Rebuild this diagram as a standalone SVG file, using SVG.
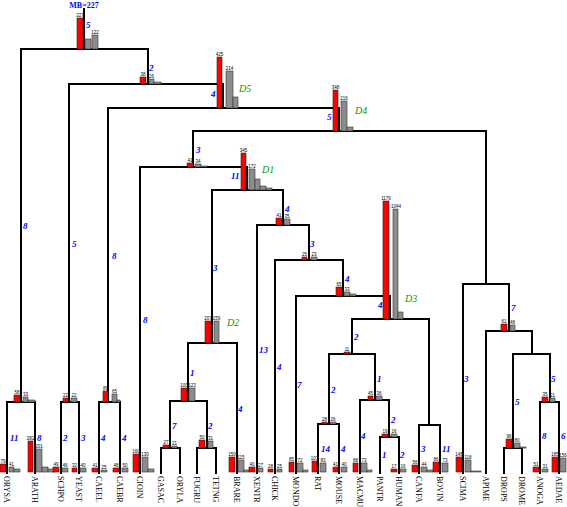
<svg xmlns="http://www.w3.org/2000/svg" width="567" height="507" viewBox="0 0 567 507">
<style>
.c{fill:none;stroke:#000;stroke-width:2;stroke-linecap:square}
.r{fill:#f00;stroke:#222;stroke-width:0.6}
.g{fill:#8c8c8c;stroke:#333;stroke-width:0.6}
.n{font-family:"Liberation Sans",sans-serif;font-size:4.5px;fill:#000;text-anchor:middle}
.b{font-family:"Liberation Serif",serif;font-size:9px;font-style:italic;font-weight:bold;fill:#00f}
.d{font-family:"Liberation Serif",serif;font-size:10px;font-style:italic;fill:#090}
.lf{font-family:"Liberation Serif",serif;font-size:8px;fill:#000}
</style>
<rect width="567" height="507" fill="#fff"/>
<g id="connectors" class="c">
<path d="M84,9V49M21,402V49H148V84M69,402V84H223V108M108,402V108H339V131M193,131V167M486,131H193"/>
<path d="M7,473V402H35V473"/>
<path d="M61,473V402H79V473"/>
<path d="M99,473V402H120V473"/>
<path d="M140,473V167H247V190M212,343V190H283V225"/>
<path d="M188,401V343H237V473M170,448V401H207V448"/>
<path d="M161,473V448H180V473M197,473V448H216V473"/>
<path d="M257,473V225H309V260M275,473V260H343V296M296,473V296H390V319"/>
<path d="M352,354V319H429V425M329,424V354H375V400M360,473V400H389V437"/>
<path d="M318,473V424H339V473M380,473V437H399V473M419,473V425H440V473"/>
<path d="M486,131V284M463,473V284H509V331M486,473V331H532V354M513,448V354H550V402"/>
<path d="M504,473V448H522V473M540,473V402H559V473"/>
</g>
<g id="root">
<text x="84" y="7.5" font-family="Liberation Serif,serif" font-size="8" font-weight="bold" fill="#00f" text-anchor="middle">MB=227</text>
<rect class="r" x="77" y="18" width="6" height="31"/><rect class="g" x="85" y="39" width="6" height="10"/><rect class="g" x="92" y="35" width="6" height="14"/>
<text class="n" x="80" y="17">227</text><text class="n" x="95" y="34">122</text>
<text class="b" x="86" y="28">5</text>
</g>
<g id="n2">
<rect class="r" x="140" y="77" width="6" height="7"/><rect class="g" x="149" y="79" width="5" height="5"/><rect class="g" x="154" y="82" width="7" height="2"/>
<text class="n" x="143" y="76">38</text><text class="n" x="151.5" y="78">26</text>
<text class="b" x="149" y="71">2</text>
</g>
<g id="D5">
<rect class="r" x="217" y="57" width="5" height="51"/><rect class="g" x="226" y="71" width="7" height="37"/><rect class="g" x="233" y="97" width="5" height="11"/>
<text class="n" x="219.5" y="56">425</text><text class="n" x="229.5" y="70">214</text>
<text class="b" x="211" y="97">4</text><text class="d" x="239" y="92">D5</text>
</g>
<g id="D4">
<rect class="r" x="333" y="90" width="5" height="41"/><rect class="g" x="341" y="101" width="6" height="30"/><rect class="g" x="347" y="127" width="6" height="4"/>
<text class="n" x="335.5" y="89">348</text><text class="n" x="344" y="100">216</text>
<text class="b" x="327" y="120">5</text><text class="d" x="355" y="114">D4</text>
</g>
<g id="n3">
<rect class="r" x="187" y="163" width="6" height="4"/><rect class="g" x="195" y="164" width="6" height="3"/><rect class="g" x="201" y="166" width="6" height="1"/>
<text class="n" x="190" y="162">41</text><text class="n" x="198" y="163">34</text>
<text class="b" x="196" y="153">3</text>
</g>
<g id="D1">
<rect class="r" x="241" y="153" width="5" height="37"/><rect class="g" x="249" y="169" width="6" height="21"/><rect class="g" x="255" y="179" width="5" height="11"/><rect class="g" x="260" y="186" width="6" height="4"/><rect class="g" x="266" y="188" width="6" height="2"/>
<text class="n" x="243.5" y="152">345</text><text class="n" x="252" y="168">172</text>
<text class="b" x="231" y="179">11</text><text class="d" x="262" y="173">D1</text>
<text class="b" x="213" y="271">3</text>
</g>
<g id="n4">
<rect class="r" x="276" y="218" width="6" height="7"/><rect class="g" x="284" y="219" width="6" height="6"/>
<text class="n" x="279" y="217">41</text><text class="n" x="287" y="218">35</text>
<text class="b" x="285" y="212">4</text>
</g>
<g id="n5">
<rect class="r" x="302" y="257" width="5" height="3"/><rect class="g" x="311" y="257" width="6" height="3"/>
<text class="n" x="304.5" y="256">25</text><text class="n" x="314" y="256">23</text>
<text class="b" x="310" y="247">3</text>
</g>
<g id="n6">
<rect class="r" x="336" y="287" width="6" height="9"/><rect class="g" x="344" y="292" width="6" height="4"/><rect class="g" x="350" y="294" width="6" height="2"/>
<text class="n" x="339" y="286">65</text><text class="n" x="347" y="291">33</text>
<text class="b" x="345" y="282">4</text>
</g>
<g id="D3">
<rect class="r" x="383" y="201" width="6" height="118"/><rect class="g" x="393" y="209" width="5" height="110"/><rect class="g" x="398" y="312" width="5" height="7"/>
<text class="n" x="386" y="200">1179</text><text class="n" x="396" y="208">1044</text>
<text class="b" x="378" y="308">4</text><text class="d" x="405" y="302">D3</text>
</g>
<g id="n7">
<rect class="r" x="344" y="352" width="6" height="2"/>
<text class="n" x="347" y="351">11</text>
<text class="b" x="354" y="340">2</text>
</g>
<g id="n8">
<rect class="r" x="368" y="396" width="5" height="4"/><rect class="g" x="376" y="396" width="6" height="4"/>
<text class="n" x="370.5" y="395">45</text><text class="n" x="379" y="395">36</text>
<text class="b" x="377" y="382">1</text>
</g>
<g id="n9">
<rect class="r" x="382" y="434" width="6" height="3"/><rect class="g" x="391" y="434" width="6" height="3"/>
<text class="n" x="385" y="433">19</text><text class="n" x="394" y="433">16</text>
<text class="b" x="391" y="423">2</text>
</g>
<g id="n10">
<text class="b" x="331" y="393">2</text>
</g>
<g id="n11">
<rect class="r" x="322" y="422" width="5" height="2"/><rect class="g" x="330" y="422" width="6" height="2"/>
<text class="n" x="324.5" y="421">28</text><text class="n" x="333" y="421">26</text>
</g>
<g id="n12">
<text class="b" x="464" y="382">3</text>
</g>
<g id="n13">
<rect class="r" x="501" y="324" width="6" height="7"/><rect class="g" x="510" y="325" width="5" height="6"/>
<text class="n" x="504" y="323">61</text><text class="n" x="512.5" y="324">48</text>
<text class="b" x="511" y="311">7</text>
</g>
<g id="n14">
<rect class="r" x="506" y="439" width="6" height="9"/><rect class="g" x="514" y="443" width="6" height="5"/><rect class="g" x="520" y="447" width="6" height="1"/>
<text class="n" x="509" y="438">96</text><text class="n" x="517" y="442">80</text>
<text class="b" x="515" y="405">5</text>
</g>
<g id="n15">
<rect class="r" x="542" y="397" width="6" height="5"/><rect class="g" x="550" y="398" width="5" height="4"/>
<text class="n" x="545" y="396">35</text><text class="n" x="552.5" y="397">21</text>
<text class="b" x="551" y="382">5</text>
</g>
<g id="n16">
<rect class="r" x="14" y="395" width="6" height="7"/><rect class="g" x="23" y="397" width="5" height="5"/><rect class="g" x="28" y="400" width="7" height="2"/>
<text class="n" x="17" y="394">58</text><text class="n" x="25.5" y="396">33</text>
<text class="b" x="23" y="229">8</text>
</g>
<g id="n17">
<rect class="r" x="63" y="398" width="5" height="4"/><rect class="g" x="71" y="398" width="6" height="4"/>
<text class="n" x="65.5" y="397">22</text><text class="n" x="74" y="397">22</text>
<text class="b" x="72" y="247">5</text>
</g>
<g id="n18">
<rect class="r" x="103" y="391" width="5" height="11"/><rect class="g" x="112" y="394" width="5" height="8"/><rect class="g" x="117" y="400" width="3" height="2"/>
<text class="n" x="105.5" y="390">89</text><text class="n" x="114.5" y="393">65</text>
<text class="b" x="112" y="259">8</text>
</g>
<g id="n19">
<text class="b" x="143" y="323">8</text>
</g>
<g id="D2">
<rect class="r" x="205" y="321" width="6" height="22"/><rect class="g" x="214" y="321" width="5" height="22"/>
<text class="n" x="208" y="320">207</text><text class="n" x="216.5" y="320">159</text>
<text class="d" x="227" y="326">D2</text>
</g>
<g id="n20">
<rect class="r" x="181" y="388" width="6" height="13"/><rect class="g" x="189" y="388" width="6" height="13"/>
<text class="n" x="184" y="387">100</text><text class="n" x="192" y="387">123</text>
<text class="b" x="190" y="376">1</text>
</g>
<g id="n21">
<rect class="r" x="163" y="445" width="6" height="3"/><rect class="g" x="172" y="446" width="5" height="2"/>
<text class="n" x="166" y="444">27</text><text class="n" x="174.5" y="445">21</text>
<text class="b" x="172" y="429">7</text>
</g>
<g id="n22">
<rect class="r" x="199" y="440" width="6" height="8"/><rect class="g" x="208" y="441" width="5" height="7"/>
<text class="n" x="202" y="439">50</text><text class="n" x="210.5" y="440">31</text>
<text class="b" x="208" y="429">2</text>
</g>
<g id="leaves" class="lf">
<g id="ORYSA"><rect class="r" x="0" y="464" width="6" height="8"/><rect class="g" x="9" y="467" width="5" height="5"/><rect class="g" x="14" y="469" width="6" height="3"/><text class="n" x="3" y="463">79</text><text class="n" x="11.5" y="466">41</text><text class="b" x="10" y="441">11</text><text transform="translate(7,476) rotate(90)" dy="0.35em">ORYSA</text></g>
<g id="ARATH"><rect class="r" x="28" y="441" width="5" height="31"/><rect class="g" x="36" y="449" width="6" height="23"/><rect class="g" x="42" y="467" width="6" height="5"/><rect class="g" x="48" y="469" width="7" height="3"/><text class="n" x="30.5" y="440">281</text><text class="n" x="39" y="448">201</text><text class="b" x="37" y="441">8</text><text transform="translate(35,476) rotate(90)" dy="0.35em">ARATH</text></g>
<g id="SCHPO"><rect class="r" x="53" y="467" width="6" height="5"/><rect class="g" x="62" y="468" width="6" height="4"/><text class="n" x="56" y="466">49</text><text class="n" x="65" y="467">46</text><text class="b" x="63" y="441">2</text><text transform="translate(61,476) rotate(90)" dy="0.35em">SCHPO</text></g>
<g id="YEAST"><rect class="r" x="72" y="468" width="5" height="4"/><rect class="g" x="80" y="468" width="6" height="4"/><text class="n" x="74.5" y="467">32</text><text class="n" x="83" y="467">40</text><text class="b" x="81" y="441">3</text><text transform="translate(79,476) rotate(90)" dy="0.35em">YEAST</text></g>
<g id="CAEEL"><rect class="r" x="92" y="468" width="6" height="4"/><rect class="g" x="101" y="470" width="6" height="2"/><text class="n" x="95" y="467">41</text><text class="n" x="104" y="469">25</text><text class="b" x="101" y="441">4</text><text transform="translate(99,476) rotate(90)" dy="0.35em">CAEEL</text></g>
<g id="CAEBR"><rect class="r" x="113" y="468" width="6" height="4"/><rect class="g" x="122" y="468" width="6" height="4"/><text class="n" x="116" y="467">48</text><text class="n" x="125" y="467">50</text><text class="b" x="122" y="441">4</text><text transform="translate(120,476) rotate(90)" dy="0.35em">CAEBR</text></g>
<g id="CIOIN"><rect class="r" x="133" y="454" width="6" height="18"/><rect class="g" x="142" y="457" width="6" height="15"/><rect class="g" x="148" y="469" width="6" height="3"/><text class="n" x="136" y="453">160</text><text class="n" x="145" y="456">130</text><text transform="translate(140,476) rotate(90)" dy="0.35em">CIOIN</text></g>
<g id="GASAC"><text transform="translate(161,476) rotate(90)" dy="0.35em">GASAC</text></g>
<g id="ORYLA"><text transform="translate(180,476) rotate(90)" dy="0.35em">ORYLA</text></g>
<g id="FUGRU"><text transform="translate(197,476) rotate(90)" dy="0.35em">FUGRU</text></g>
<g id="TETNG"><text transform="translate(216,476) rotate(90)" dy="0.35em">TETNG</text></g>
<g id="BRARE"><rect class="r" x="229" y="457" width="6" height="15"/><rect class="g" x="238" y="460" width="6" height="12"/><rect class="g" x="244" y="470" width="5" height="2"/><text class="n" x="232" y="456">150</text><text class="n" x="241" y="459">115</text><text class="b" x="238" y="412">4</text><text transform="translate(237,476) rotate(90)" dy="0.35em">BRARE</text></g>
<g id="XENTR"><rect class="r" x="249" y="467" width="6" height="5"/><rect class="g" x="258" y="468" width="5" height="4"/><text class="n" x="252" y="466">40</text><text class="n" x="260.5" y="467">27</text><text class="b" x="259" y="353">13</text><text transform="translate(257,476) rotate(90)" dy="0.35em">XENTR</text></g>
<g id="CHICK"><rect class="r" x="268" y="469" width="5" height="3"/><rect class="g" x="277" y="469" width="5" height="3"/><text class="n" x="270.5" y="468">28</text><text class="n" x="279.5" y="468">25</text><text class="b" x="277" y="370">4</text><text transform="translate(275,476) rotate(90)" dy="0.35em">CHICK</text></g>
<g id="MONDO"><rect class="r" x="289" y="462" width="5" height="10"/><rect class="g" x="297" y="463" width="6" height="9"/><rect class="g" x="303" y="470" width="5" height="2"/><text class="n" x="291.5" y="461">85</text><text class="n" x="300" y="462">72</text><text class="b" x="297" y="388">7</text><text transform="translate(296,476) rotate(90)" dy="0.35em">MONDO</text></g>
<g id="RAT"><rect class="r" x="312" y="461" width="5" height="11"/><rect class="g" x="320" y="463" width="6" height="9"/><text class="n" x="314.5" y="460">107</text><text class="n" x="323" y="462">83</text><text class="b" x="321" y="452">14</text><text transform="translate(318,476) rotate(90)" dy="0.35em">RAT</text></g>
<g id="MOUSE"><rect class="r" x="333" y="467" width="5" height="5"/><rect class="g" x="341" y="467" width="6" height="5"/><text class="n" x="335.5" y="466">41</text><text class="n" x="344" y="466">40</text><text class="b" x="341" y="452">4</text><text transform="translate(339,476) rotate(90)" dy="0.35em">MOUSE</text></g>
<g id="MACMU"><rect class="r" x="353" y="463" width="5" height="9"/><rect class="g" x="361" y="463" width="6" height="9"/><rect class="g" x="367" y="470" width="5" height="2"/><text class="n" x="355.5" y="462">88</text><text class="n" x="364" y="462">73</text><text class="b" x="361" y="439">4</text><text transform="translate(360,476) rotate(90)" dy="0.35em">MACMU</text></g>
<g id="PANTR"><text class="b" x="382" y="458">1</text><text transform="translate(380,476) rotate(90)" dy="0.35em">PANTR</text></g>
<g id="HUMAN"><rect class="r" x="391" y="469" width="6" height="3"/><rect class="g" x="400" y="469" width="6" height="3"/><text class="n" x="394" y="468">17</text><text class="n" x="403" y="468">16</text><text class="b" x="400" y="458">2</text><text transform="translate(399,476) rotate(90)" dy="0.35em">HUMAN</text></g>
<g id="CANFA"><rect class="r" x="412" y="465" width="6" height="7"/><rect class="g" x="421" y="467" width="6" height="5"/><rect class="g" x="427" y="470" width="6" height="2"/><text class="n" x="415" y="464">56</text><text class="n" x="424" y="466">44</text><text class="b" x="421" y="452">3</text><text transform="translate(419,476) rotate(90)" dy="0.35em">CANFA</text></g>
<g id="BOVIN"><rect class="r" x="433" y="462" width="6" height="10"/><rect class="g" x="442" y="463" width="6" height="9"/><text class="n" x="436" y="461">86</text><text class="n" x="445" y="462">73</text><text class="b" x="442" y="452">11</text><text transform="translate(440,476) rotate(90)" dy="0.35em">BOVIN</text></g>
<g id="SCIMA"><rect class="r" x="456" y="457" width="6" height="15"/><rect class="g" x="465" y="460" width="6" height="12"/><rect class="g" x="471" y="471" width="10" height="1"/><text class="n" x="459" y="456">148</text><text class="n" x="468" y="459">118</text><text transform="translate(463,476) rotate(90)" dy="0.35em">SCIMA</text></g>
<g id="APIME"><text transform="translate(486,476) rotate(90)" dy="0.35em">APIME</text></g>
<g id="DROPS"><text transform="translate(504,476) rotate(90)" dy="0.35em">DROPS</text></g>
<g id="DROME"><text transform="translate(522,476) rotate(90)" dy="0.35em">DROME</text></g>
<g id="ANOGA"><rect class="r" x="533" y="467" width="6" height="5"/><rect class="g" x="542" y="469" width="6" height="3"/><text class="n" x="536" y="466">51</text><text class="n" x="545" y="468">31</text><text class="b" x="542" y="439">8</text><text transform="translate(540,476) rotate(90)" dy="0.35em">ANOGA</text></g>
<g id="AEDAE"><rect class="r" x="552" y="457" width="6" height="15"/><rect class="g" x="560" y="458" width="6" height="14"/><text class="n" x="555" y="456">185</text><text class="n" x="563" y="457">156</text><text class="b" x="561" y="439">6</text><text transform="translate(559,476) rotate(90)" dy="0.35em">AEDAE</text></g>
</g>
</svg>
